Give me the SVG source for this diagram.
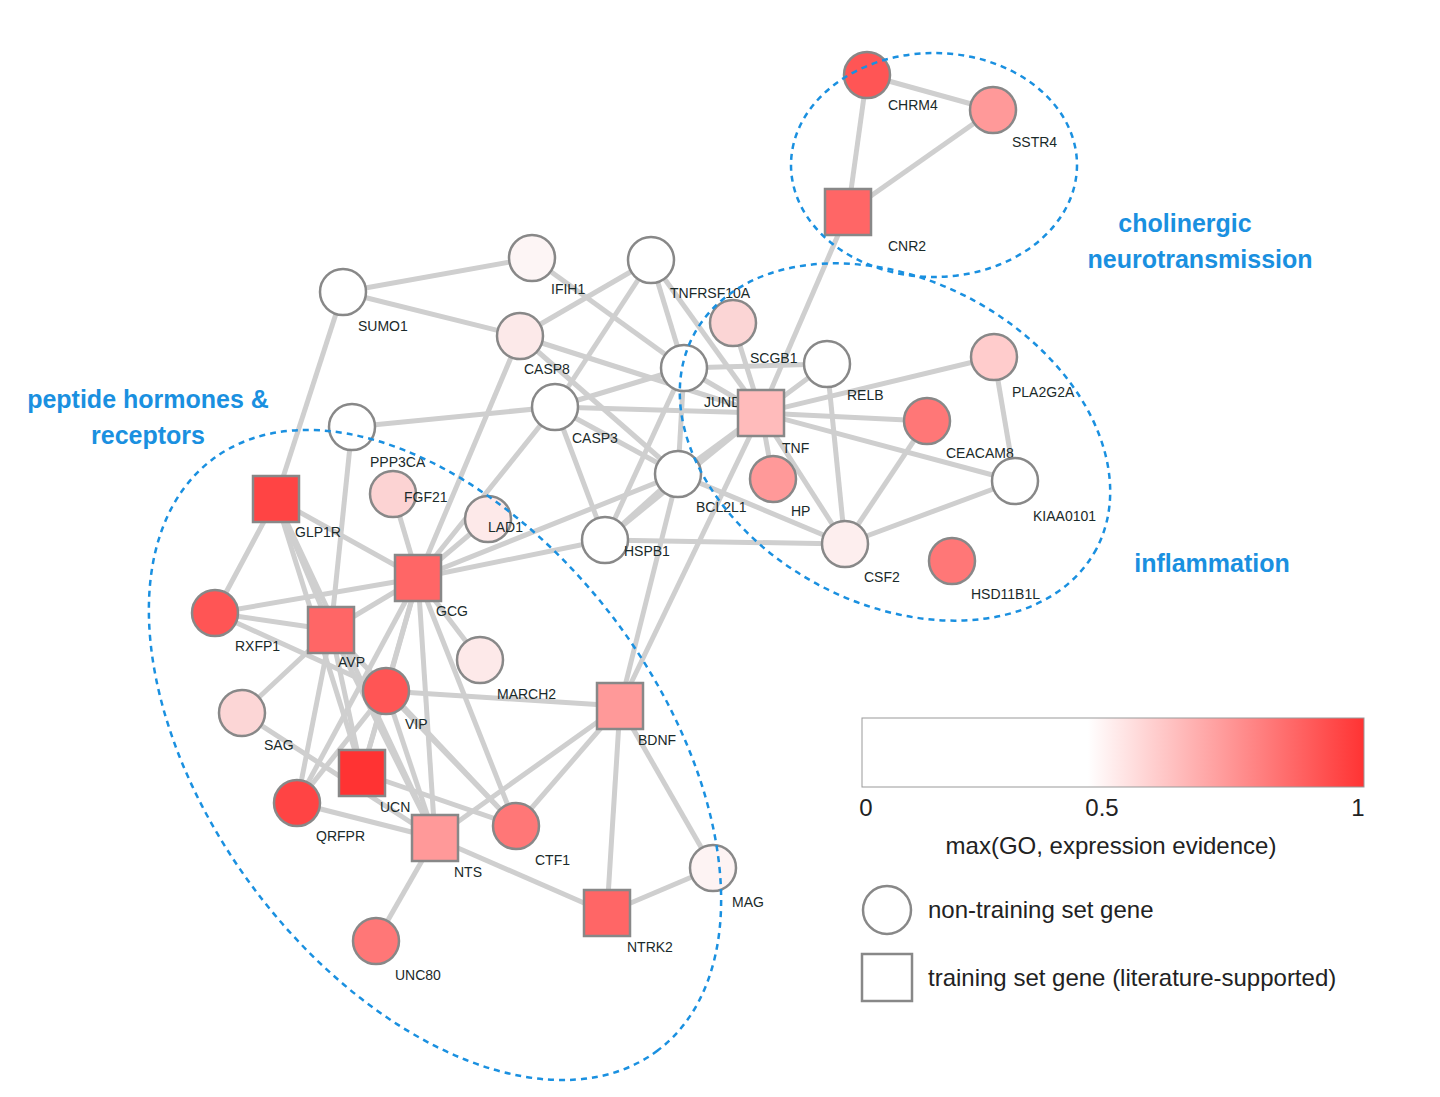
<svg xmlns="http://www.w3.org/2000/svg" width="1440" height="1097" viewBox="0 0 1440 1097">
<defs>
<style>
.e line{stroke:#cfcfcf;stroke-width:5}
.n circle,.n rect{stroke:#888;stroke-width:2.5}
.l{font-family:"Liberation Sans",Arial,sans-serif;font-size:14px;fill:#1a2a2a}
.g{font-family:"Liberation Sans",Arial,sans-serif;font-size:25px;font-weight:bold;fill:#1a90e0}
.t{font-family:"Liberation Sans",Arial,sans-serif;font-size:24px;fill:#222}
.d{fill:none;stroke:#1a90e0;stroke-width:2.5;stroke-dasharray:6 5}
</style>
<linearGradient id="gr" x1="0" x2="1" y1="0" y2="0"><stop offset="0" stop-color="#fff"/><stop offset="0.45" stop-color="#fff"/><stop offset="1" stop-color="#f33"/></linearGradient>
</defs>
<rect width="1440" height="1097" fill="#fff"/>
<g class="e">
<line x1="867" y1="75" x2="993" y2="110"/><line x1="867" y1="75" x2="848" y2="212"/><line x1="993" y1="110" x2="848" y2="212"/><line x1="848" y1="212" x2="761" y2="413"/>
<line x1="343" y1="292" x2="532" y2="258"/><line x1="343" y1="292" x2="520" y2="336"/><line x1="343" y1="292" x2="276" y2="499"/>
<line x1="532" y1="258" x2="684" y2="368"/><line x1="651" y1="260" x2="520" y2="336"/><line x1="651" y1="260" x2="555" y2="407"/><line x1="651" y1="260" x2="684" y2="368"/><line x1="651" y1="260" x2="761" y2="413"/>
<line x1="520" y1="336" x2="761" y2="413"/><line x1="520" y1="336" x2="678" y2="474"/><line x1="520" y1="336" x2="418" y2="578"/>
<line x1="555" y1="407" x2="352" y2="427"/><line x1="555" y1="407" x2="684" y2="368"/><line x1="555" y1="407" x2="761" y2="413"/><line x1="555" y1="407" x2="678" y2="474"/><line x1="555" y1="407" x2="605" y2="540"/><line x1="555" y1="407" x2="418" y2="578"/>
<line x1="684" y1="368" x2="761" y2="413"/><line x1="684" y1="368" x2="827" y2="364"/><line x1="684" y1="368" x2="605" y2="540"/><line x1="684" y1="368" x2="678" y2="474"/>
<line x1="761" y1="413" x2="733" y2="323"/><line x1="761" y1="413" x2="827" y2="364"/><line x1="761" y1="413" x2="994" y2="357"/><line x1="761" y1="413" x2="927" y2="421"/><line x1="761" y1="413" x2="1015" y2="481"/><line x1="761" y1="413" x2="773" y2="479"/><line x1="761" y1="413" x2="845" y2="544"/><line x1="761" y1="413" x2="678" y2="474"/><line x1="761" y1="413" x2="605" y2="540"/><line x1="761" y1="413" x2="620" y2="706"/>
<line x1="827" y1="364" x2="845" y2="544"/><line x1="994" y1="357" x2="1015" y2="481"/><line x1="927" y1="421" x2="845" y2="544"/><line x1="1015" y1="481" x2="845" y2="544"/><line x1="605" y1="540" x2="845" y2="544"/><line x1="678" y1="474" x2="845" y2="544"/>
<line x1="678" y1="474" x2="418" y2="578"/><line x1="678" y1="474" x2="605" y2="540"/><line x1="678" y1="474" x2="620" y2="706"/>
<line x1="352" y1="427" x2="331" y2="630"/><line x1="393" y1="494" x2="418" y2="578"/><line x1="488" y1="519" x2="418" y2="578"/><line x1="605" y1="540" x2="418" y2="578"/>
<line x1="276" y1="499" x2="418" y2="578"/><line x1="276" y1="499" x2="215" y2="613"/><line x1="276" y1="499" x2="331" y2="630"/><line x1="276" y1="499" x2="362" y2="773"/><line x1="276" y1="499" x2="435" y2="838"/>
<line x1="418" y1="578" x2="215" y2="613"/><line x1="418" y1="578" x2="331" y2="630"/><line x1="418" y1="578" x2="386" y2="691"/><line x1="418" y1="578" x2="362" y2="773"/><line x1="418" y1="578" x2="435" y2="838"/><line x1="418" y1="578" x2="480" y2="660"/><line x1="418" y1="578" x2="297" y2="803"/><line x1="418" y1="578" x2="516" y2="826"/>
<line x1="215" y1="613" x2="331" y2="630"/><line x1="215" y1="613" x2="386" y2="691"/>
<line x1="331" y1="630" x2="242" y2="713"/><line x1="331" y1="630" x2="297" y2="803"/><line x1="331" y1="630" x2="362" y2="773"/><line x1="331" y1="630" x2="435" y2="838"/><line x1="331" y1="630" x2="516" y2="826"/>
<line x1="386" y1="691" x2="620" y2="706"/><line x1="386" y1="691" x2="297" y2="803"/><line x1="386" y1="691" x2="362" y2="773"/><line x1="386" y1="691" x2="435" y2="838"/><line x1="386" y1="691" x2="516" y2="826"/>
<line x1="242" y1="713" x2="435" y2="838"/><line x1="297" y1="803" x2="435" y2="838"/><line x1="362" y1="773" x2="516" y2="826"/>
<line x1="435" y1="838" x2="620" y2="706"/><line x1="435" y1="838" x2="376" y2="941"/><line x1="435" y1="838" x2="607" y2="913"/>
<line x1="516" y1="826" x2="620" y2="706"/><line x1="620" y1="706" x2="607" y2="913"/><line x1="620" y1="706" x2="713" y2="868"/><line x1="713" y1="868" x2="607" y2="913"/>
</g>
<g id="CHRM4" class="n"><circle cx="867" cy="75" r="23" fill="#f55"/><text class="l" x="888" y="110">CHRM4</text></g>
<g id="SSTR4" class="n"><circle cx="993" cy="110" r="23" fill="#f99"/><text class="l" x="1012" y="147">SSTR4</text></g>
<g id="CNR2" class="n"><rect x="825" y="189" width="46" height="46" fill="#f66"/><text class="l" x="888" y="251">CNR2</text></g>
<g id="IFIH1" class="n"><circle cx="532" cy="258" r="23" fill="#fdf5f5"/><text class="l" x="551" y="294">IFIH1</text></g>
<g id="TNFRSF10A" class="n"><circle cx="651" cy="260" r="23" fill="#fff"/><text class="l" x="670" y="298">TNFRSF10A</text></g>
<g id="SUMO1" class="n"><circle cx="343" cy="292" r="23" fill="#fff"/><text class="l" x="358" y="331">SUMO1</text></g>
<g id="CASP8" class="n"><circle cx="520" cy="336" r="23" fill="#fce9e9"/><text class="l" x="524" y="374">CASP8</text></g>
<g id="SCGB1" class="n"><circle cx="733" cy="323" r="23" fill="#fbd5d5"/><text class="l" x="750" y="363">SCGB1</text></g>
<g id="RELB" class="n"><circle cx="827" cy="364" r="23" fill="#fff"/><text class="l" x="847" y="400">RELB</text></g>
<g id="JUND" class="n"><circle cx="684" cy="368" r="23" fill="#fff"/><text class="l" x="704" y="407">JUND</text></g>
<g id="PLA2G2A" class="n"><circle cx="994" cy="357" r="23" fill="#fcc"/><text class="l" x="1012" y="397">PLA2G2A</text></g>
<g id="TNF" class="n"><rect x="738" y="390" width="46" height="46" fill="#fbb"/><text class="l" x="782" y="453">TNF</text></g>
<g id="CASP3" class="n"><circle cx="555" cy="407" r="23" fill="#fff"/><text class="l" x="572" y="443">CASP3</text></g>
<g id="PPP3CA" class="n"><circle cx="352" cy="427" r="23" fill="#fff"/><text class="l" x="370" y="467">PPP3CA</text></g>
<g id="CEACAM8" class="n"><circle cx="927" cy="421" r="23" fill="#f77"/><text class="l" x="946" y="458">CEACAM8</text></g>
<g id="HP" class="n"><circle cx="773" cy="479" r="23" fill="#f99"/><text class="l" x="791" y="516">HP</text></g>
<g id="BCL2L1" class="n"><circle cx="678" cy="474" r="23" fill="#fff"/><text class="l" x="696" y="512">BCL2L1</text></g>
<g id="KIAA0101" class="n"><circle cx="1015" cy="481" r="23" fill="#fff"/><text class="l" x="1033" y="521">KIAA0101</text></g>
<g id="FGF21" class="n"><circle cx="393" cy="494" r="23" fill="#fcd3d3"/><text class="l" x="404" y="502">FGF21</text></g>
<g id="LAD1" class="n"><circle cx="488" cy="519" r="23" fill="#fde9e9"/><text class="l" x="488" y="532">LAD1</text></g>
<g id="GLP1R" class="n"><rect x="253" y="476" width="46" height="46" fill="#f44"/><text class="l" x="295" y="537">GLP1R</text></g>
<g id="HSPB1" class="n"><circle cx="605" cy="540" r="23" fill="#fff"/><text class="l" x="624" y="556">HSPB1</text></g>
<g id="CSF2" class="n"><circle cx="845" cy="544" r="23" fill="#fdeeee"/><text class="l" x="864" y="582">CSF2</text></g>
<g id="HSD11B1L" class="n"><circle cx="952" cy="561" r="23" fill="#f77"/><text class="l" x="971" y="599">HSD11B1L</text></g>
<g id="GCG" class="n"><rect x="395" y="555" width="46" height="46" fill="#f66"/><text class="l" x="436" y="616">GCG</text></g>
<g id="RXFP1" class="n"><circle cx="215" cy="613" r="23" fill="#f55"/><text class="l" x="235" y="651">RXFP1</text></g>
<g id="AVP" class="n"><rect x="308" y="607" width="46" height="46" fill="#f66"/><text class="l" x="338" y="667">AVP</text></g>
<g id="MARCH2" class="n"><circle cx="480" cy="660" r="23" fill="#fde9e9"/><text class="l" x="497" y="699">MARCH2</text></g>
<g id="VIP" class="n"><circle cx="386" cy="691" r="23" fill="#f55"/><text class="l" x="405" y="729">VIP</text></g>
<g id="BDNF" class="n"><rect x="597" y="683" width="46" height="46" fill="#f99"/><text class="l" x="638" y="745">BDNF</text></g>
<g id="SAG" class="n"><circle cx="242" cy="713" r="23" fill="#fcd6d6"/><text class="l" x="264" y="750">SAG</text></g>
<g id="UCN" class="n"><rect x="339" y="750" width="46" height="46" fill="#f33"/><text class="l" x="380" y="812">UCN</text></g>
<g id="QRFPR" class="n"><circle cx="297" cy="803" r="23" fill="#f44"/><text class="l" x="316" y="841">QRFPR</text></g>
<g id="NTS" class="n"><rect x="412" y="815" width="46" height="46" fill="#f99"/><text class="l" x="454" y="877">NTS</text></g>
<g id="CTF1" class="n"><circle cx="516" cy="826" r="23" fill="#f77"/><text class="l" x="535" y="865">CTF1</text></g>
<g id="MAG" class="n"><circle cx="713" cy="868" r="23" fill="#fdf3f3"/><text class="l" x="732" y="907">MAG</text></g>
<g id="NTRK2" class="n"><rect x="584" y="890" width="46" height="46" fill="#f66"/><text class="l" x="627" y="952">NTRK2</text></g>
<g id="UNC80" class="n"><circle cx="376" cy="941" r="23" fill="#f77"/><text class="l" x="395" y="980">UNC80</text></g>
<g id="groups">
<ellipse class="d" cx="934" cy="165" rx="143" ry="112"/>
<ellipse class="d" cx="895" cy="442" rx="228" ry="162" transform="rotate(28 895 442)"/>
<ellipse class="d" cx="435" cy="755" rx="370" ry="225" transform="rotate(53 435 755)"/>
<text class="g" x="1185" y="232" text-anchor="middle">cholinergic</text>
<text class="g" x="1200" y="268" text-anchor="middle">neurotransmission</text>
<text class="g" x="1212" y="572" text-anchor="middle">inflammation</text>
<text class="g" x="148" y="408" text-anchor="middle">peptide hormones &amp;</text>
<text class="g" x="148" y="444" text-anchor="middle">receptors</text>
</g>
<g id="legend">
<rect x="862" y="718" width="502" height="69" fill="url(#gr)" stroke="#999" stroke-width="1"/>
<text class="t" x="866" y="816" text-anchor="middle">0</text>
<text class="t" x="1102" y="816" text-anchor="middle">0.5</text>
<text class="t" x="1358" y="816" text-anchor="middle">1</text>
<text class="t" x="1111" y="854" text-anchor="middle">max(GO, expression evidence)</text>
<circle cx="887" cy="910" r="24" fill="#fff" stroke="#888" stroke-width="2.5"/>
<text class="t" x="928" y="918">non-training set gene</text>
<rect x="862" y="954" width="50" height="47" fill="#fff" stroke="#888" stroke-width="2.5"/>
<text class="t" x="928" y="986">training set gene (literature-supported)</text>
</g>
</svg>
